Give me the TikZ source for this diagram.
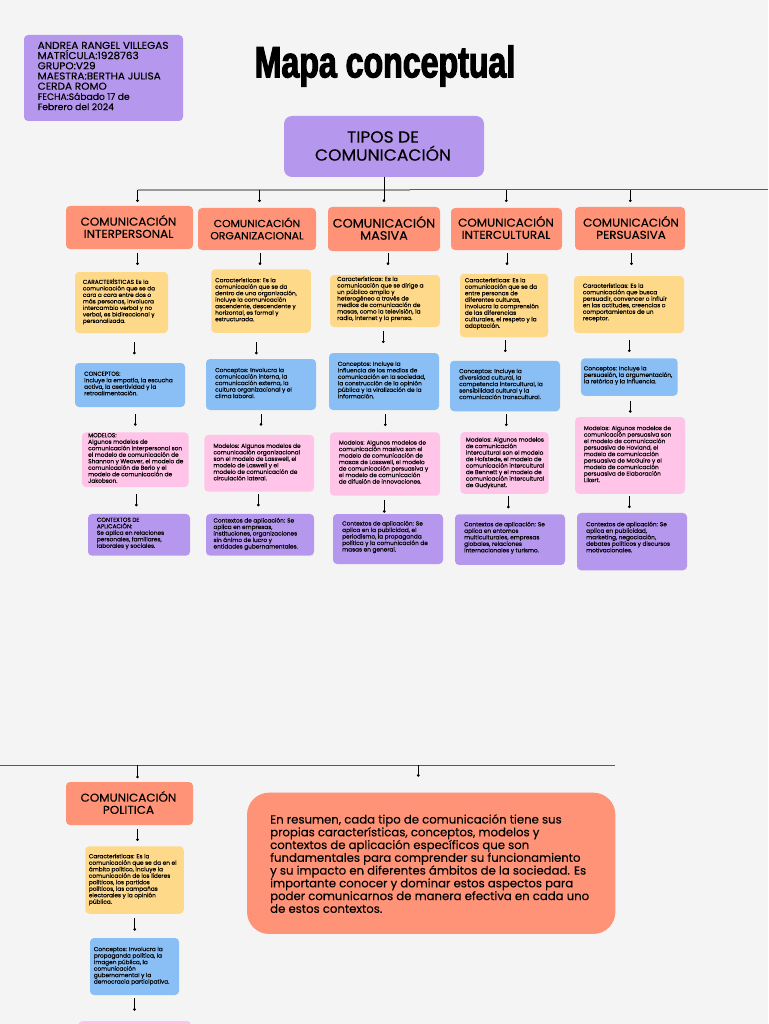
\documentclass[tikz,border=0pt]{standalone}
\usepackage{fontspec}
\setmainfont{Poppins}[FakeBold=0.18]
\newfontfamily\capsfont{Poppins}[FakeStretch=1.05,FakeBold=0.25]
\newfontfamily\titlefont{Liberation Sans}[FakeStretch=0.73,BoldFeatures={FakeBold=2.5}]
\newcommand{\mayus}{\capsfont\fontsize{10}{10.2}\selectfont}
\usetikzlibrary{arrows.meta}
\definecolor{fondo}{HTML}{F4F4F4}
\definecolor{morado}{HTML}{B598EE}
\definecolor{naranja}{HTML}{FF9377}
\definecolor{amarillo}{HTML}{FFD98A}
\definecolor{azul}{HTML}{8ABFF6}
\definecolor{rosa}{HTML}{FFC4E8}
\tikzset{
	caja/.style={rectangle, rounded corners=4pt, inner sep=0pt},
	titulo/.style={anchor=center, align=center, inner sep=0pt},
	texto/.style={anchor=west, align=left, inner sep=0pt, font=\fontsize{5.8}{6.5}\selectfont},
	enlace/.style={-{Circle[length=2.6pt]}, line width=.9pt, black},
	barra/.style={line width=1pt, black!65}
}
\begin{document}
\begin{tikzpicture}[x=1pt,y=-1pt]
	\useasboundingbox (0,0) rectangle (768,1024);
	\clip (0,0) rectangle (768,1024);
	\fill[fondo] (0,0) rectangle (768,1024);
	% encabezado
	\node[caja, fill=morado, minimum width=159pt, minimum height=86pt] (datos) at (103.5,78) {};
	\node[texto, font=\fontsize{9.2}{10.2}\selectfont] (datost) at (37.5,76) {\mayus ANDREA RANGEL VILLEGAS\\\mayus MATRÍCULA:1928763\\\mayus GRUPO:V29\\\mayus MAESTRA:BERTHA JULISA\\\mayus CERDA ROMO\\FECHA:Sábado 17 de\\Febrero del 2024};
	\node[inner sep=0pt, font=\titlefont\bfseries\fontsize{44}{44}\selectfont] (mapa) at (385,66) {Mapa conceptual};
	\node[caja, rounded corners=8pt, fill=morado, minimum width=200pt, minimum height=61pt] (tipos) at (384,146.5) {};
	\node[titulo, font=\capsfont\fontsize{16.2}{18}\selectfont] (tipost) at (383,146) {TIPOS DE\\COMUNICACIÓN};
	% tipos de comunicacion
	\foreach \alph/\x/\y/\an/\al/\lx/\ly/\tam/\name in {
		inter/129.5/227.5/127/43/128.5/226.5/11.4/{COMUNICACIÓN\\INTERPERSONAL},
		orga/257/229/118/42/257/228.5/10.3/{COMUNICACIÓN\\ORGANIZACIONAL},
		masa/384/229/112/44/384/228/12.2/{COMUNICACIÓN\\MASIVA},
		cult/506.5/229/111/42/506/227.5/11.4/{COMUNICACIÓN\\INTERCULTURAL},
		pers/630/228.5/110/43/631/227.5/11.4/{COMUNICACIÓN\\PERSUASIVA},
		poli/129.5/803.5/127/43/128.5/802.5/11.4/{COMUNICACIÓN\\POLITICA}%
	}{
		\node[caja, fill=naranja, minimum width=\an pt, minimum height=\al pt] (\alph) at (\x,\y) {};
		\node[titulo, font=\capsfont\fontsize{\tam}{12.2}\selectfont] (\alph t) at (\lx,\ly) {\name};
	}
	% caracteristicas
	\foreach \alph/\x/\y/\an/\al/\lx/\ly/\name in {
		car1/121.5/302.5/93/61/82.7/301.5/{CARACTERÍSTICAS Es la\\comunicación que se da\\cara a cara entre dos o\\más personas, involucra\\intercambio verbal y no\\verbal, es bidireccional y\\personalizada.},
		car2/261/301/99.5/63.5/215/299.5/{Características: Es la\\comunicación que se da\\dentro de una organización,\\incluye la comunicación\\ascendente, descendente y\\horizontal, es formal y\\estructurada.},
		car3/385/301/110/52/337/299/{Características: Es la\\comunicación que se dirige a\\un público amplio y\\heterogéneo a través de\\medios de comunicación de\\masas, como la televisión, la\\radio, internet y la prensa.},
		car4/504/305.5/88/63.5/464.7/303.5/{Características: Es la\\comunicación que se da\\entre personas de\\diferentes culturas,\\involucra la comprensión\\de las diferencias\\culturales, el respeto y la\\adaptación.},
		car5/629/304.5/110/57/582.7/302.5/{Características: Es la\\comunicación que busca\\persuadir, convencer o influir\\en las actitudes, creencias o\\comportamientos de un\\receptor.},
		car6/134.5/880/98.5/67.5/88.7/879.5/{Características: Es la\\comunicación que se da en el\\ámbito político, incluye la\\comunicación de los líderes\\políticos, los partidos\\políticos, las campañas\\electorales y la opinión\\pública.}%
	}{
		\node[caja, fill=amarillo, minimum width=\an pt, minimum height=\al pt] (\alph) at (\x,\y) {};
		\node[texto] (\alph t) at (\lx,\ly) {\name};
	}
	% conceptos
	\foreach \alph/\x/\y/\an/\al/\lx/\ly/\name in {
		con1/130/385/110/44/84/383.5/{CONCEPTOS:\\Incluye la empatía, la escucha\\activa, la asertividad y la\\retroalimentación.},
		con2/261/384.5/110/51/215/383/{Conceptos: Involucra la\\comunicación interna, la\\comunicación externa, la\\cultura organizacional y el\\clima laboral.},
		con3/384/381.5/110/57/337.7/380/{Conceptos: Incluye la\\influencia de los medios de\\comunicación en la sociedad,\\la construcción de la opinión\\pública y la viralización de la\\información.},
		con4/505/386/110/50.5/459/384/{Conceptos: Incluye la\\diversidad cultural, la\\competencia intercultural, la\\sensibilidad cultural y la\\comunicación transcultural.},
		con5/629.3/377/96.7/37.5/583.7/375.5/{Conceptos: Incluye la\\persuasión, la argumentación,\\la retórica y la influencia.},
		con6/134.5/966.5/89/57/93.7/966/{Conceptos: Involucra la\\propaganda política, la\\imagen pública, la\\comunicación\\gubernamental y la\\democracia participativa.}%
	}{
		\node[caja, fill=azul, minimum width=\an pt, minimum height=\al pt] (\alph) at (\x,\y) {};
		\node[texto] (\alph t) at (\lx,\ly) {\name};
	}
	% modelos
	\foreach \alph/\x/\y/\an/\al/\lx/\ly/\name in {
		mod1/135.3/459.7/106.7/54.7/88/458/{MODELOS:\\Algunos modelos de\\comunicación interpersonal son\\el modelo de comunicación de\\Shannon y Weaver, el modelo de\\comunicación de Berlo y el\\modelo de comunicación de\\Jakobson.},
		mod2/259.2/463.3/109.7/56.7/213.3/462/{Modelos: Algunos modelos de\\comunicación organizacional\\son el modelo de Lasswell, el\\modelo de Laswell y el\\modelo de comunicación de\\circulación lateral.},
		mod3/385/464/110/63.4/338.7/462/{Modelos: Algunos modelos de\\comunicación masiva son el\\modelo de comunicación de\\masas de Lasswell, el modelo\\de comunicación persuasiva y\\el modelo de comunicación\\de difusión de innovaciones.},
		mod4/504.5/462.9/88.4/61.7/465.7/463/{Modelos: Algunos modelos\\de comunicación\\intercultural son el modelo\\de Hofstede, el modelo de\\comunicación intercultural\\de Bennett y el modelo de\\comunicación intercultural\\de Gudykunst.},
		mod5/630/455.4/110/76.7/583.7/454/{Modelos: Algunos modelos de\\comunicación persuasiva son\\el modelo de comunicación\\persuasiva de Hovland, el\\modelo de comunicación\\persuasiva de McGuire y el\\modelo de comunicación\\persuasiva de Elaboración\\Likert.}%
	}{
		\node[caja, fill=rosa, minimum width=\an pt, minimum height=\al pt] (\alph) at (\x,\y) {};
		\node[texto] (\alph t) at (\lx,\ly) {\name};
	}
	\node[caja, fill=rosa, minimum width=112.5pt, minimum height=60pt] (mod6) at (134.7,1051) {};
	% contextos
	\foreach \alph/\x/\y/\an/\al/\lx/\ly/\name in {
		ctx1/139/534.8/102/41.7/96.7/533.5/{CONTEXTOS DE\\APLICACIÓN:\\Se aplica en relaciones\\personales, familiares,\\laborales y sociales.},
		ctx2/260/534.8/108/41.7/213.3/534/{Contextos de aplicación: Se\\aplica en empresas,\\instituciones, organizaciones\\sin ánimo de lucro y\\entidades gubernamentales.},
		ctx3/388/539/110/50/342/537/{Contextos de aplicación: Se\\aplica en la publicidad, el\\periodismo, la propaganda\\política y la comunicación de\\masas en general.},
		ctx4/510/539.6/110/50.7/464/537.8/{Contextos de aplicación: Se\\aplica en entornos\\multiculturales, empresas\\globales, relaciones\\internacionales y turismo.},
		ctx5/632/541.6/110/57.3/586/537/{Contextos de aplicación: Se\\aplica en publicidad,\\marketing, negociación,\\debates políticos y discursos\\motivacionales.}%
	}{
		\node[caja, fill=morado, minimum width=\an pt, minimum height=\al pt] (\alph) at (\x,\y) {};
		\node[texto] (\alph t) at (\lx,\ly) {\name};
	}
	% resumen
	\node[caja, rounded corners=22pt, fill=naranja, minimum width=368.3pt, minimum height=141.3pt] (resumen) at (431.2,863.3) {};
	\node[texto, font=\fontsize{11.7}{12.76}\selectfont] (resument) at (270,863.6) {En resumen, cada tipo de comunicación tiene sus\\propias características, conceptos, modelos y\\contextos de aplicación específicos que son\\fundamentales para comprender su funcionamiento\\y su impacto en diferentes ámbitos de la sociedad. Es\\importante conocer y dominar estos aspectos para\\poder comunicarnos de manera efectiva en cada uno\\de estos contextos.};
	% barras
	\foreach \alph/\x/\y in {ba/137.5/190, bb/410/190, bc/768/190, bd/0/765.3, be/615/765.3}{
		\coordinate (\alph) at (\x,\y);
	}
	\draw[barra, line width=1.2pt, black!40] (ba) -- (bb);
	\draw[barra] (bb) -- (bc);
	\draw[barra] (bd) -- (be);
	% enlaces
	\foreach \alph/\x/\ya/\yb in {
		a1/137.5/190/202, a2/259.5/190/202, a3/384/177/202, a4/506.3/190/202, a5/630.3/190/202,
		b1/137.5/253/265, b2/260/253/265, b3/388/253/265, b4/507/253/265, b5/631.5/253/265,
		c1/134.3/342.3/354.3, c2/256.3/342.3/354.3, c3/383.3/331/343, c4/505.3/340/352, c5/629.3/340/352,
		d1/135.3/414/425.7, d2/261/414/425.7, d3/385.3/414/426, d4/506.3/414/426, d5/630.3/401/412.7,
		e1/136.3/494/506.3, e2/258.3/494/506.3, e3/384.3/500.3/512.7, e4/508.3/496.3/508.3, e5/629.3/496.3/508,
		f1/137.5/765.3/778.3, f2/418.3/765.3/776.7, f3/137.5/829/841, f4/134.7/918.3/930.7, f5/134.5/998.3/1010.7
	}{
		\coordinate (\alph a) at (\x,\ya);
		\coordinate (\alph b) at (\x,\yb);
		\draw[enlace] (\alph a) -- (\alph b);
	}
\end{tikzpicture}
\end{document}
